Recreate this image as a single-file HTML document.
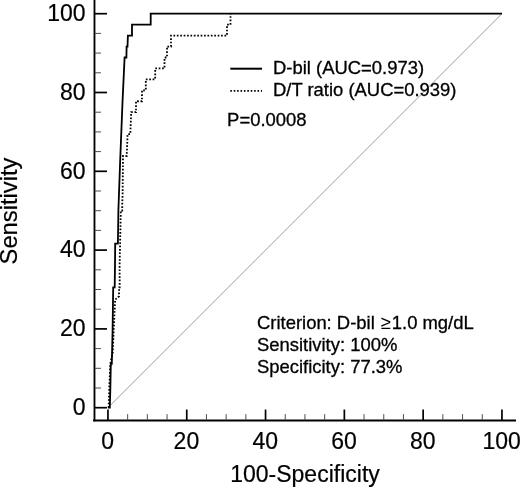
<!DOCTYPE html>
<html>
<head>
<meta charset="utf-8">
<title>ROC curve</title>
<style>
html,body{margin:0;padding:0;background:#fff;}
body{width:520px;height:487px;overflow:hidden;}
svg{display:block;}
text{font-family:"Liberation Sans",Arial,sans-serif;fill:#000;}
.tick{font-size:23px;stroke:#000;stroke-width:0.2px;}
.axl{font-size:23px;stroke:#000;stroke-width:0.2px;}
.ann{font-size:18.44px;stroke:#000;stroke-width:0.3px;}
</style>
</head>
<body>
<svg width="520" height="487" viewBox="0 0 520 487">
<rect x="0" y="0" width="520" height="487" fill="#fff"/>
<!-- diagonal reference line -->
<line x1="107.95" y1="407.70" x2="501.95" y2="13.70" stroke="#7c7c7c" stroke-width="0.75"/>
<!-- axes -->
<line x1="94.48" y1="0" x2="94.48" y2="421.34999999999997" stroke="#000" stroke-width="1.85"/>
<line x1="93.08" y1="420.45" x2="516" y2="420.45" stroke="#000" stroke-width="1.85"/>
<g id="ticks">
<line x1="94.48" y1="407.70" x2="106.98" y2="407.70" stroke="#000" stroke-width="1.7"/>
<line x1="107.95" y1="420.45" x2="107.95" y2="409.55" stroke="#000" stroke-width="1.7"/>
<line x1="94.48" y1="388.00" x2="100.98" y2="388.00" stroke="#3a3a3a" stroke-width="0.9"/>
<line x1="127.65" y1="420.45" x2="127.65" y2="414.15" stroke="#3a3a3a" stroke-width="0.9"/>
<line x1="94.48" y1="368.30" x2="100.98" y2="368.30" stroke="#3a3a3a" stroke-width="0.9"/>
<line x1="147.35" y1="420.45" x2="147.35" y2="414.15" stroke="#3a3a3a" stroke-width="0.9"/>
<line x1="94.48" y1="348.60" x2="100.98" y2="348.60" stroke="#3a3a3a" stroke-width="0.9"/>
<line x1="167.05" y1="420.45" x2="167.05" y2="414.15" stroke="#3a3a3a" stroke-width="0.9"/>
<line x1="94.48" y1="328.90" x2="106.98" y2="328.90" stroke="#000" stroke-width="1.7"/>
<line x1="186.75" y1="420.45" x2="186.75" y2="409.55" stroke="#000" stroke-width="1.7"/>
<line x1="94.48" y1="309.20" x2="100.98" y2="309.20" stroke="#3a3a3a" stroke-width="0.9"/>
<line x1="206.45" y1="420.45" x2="206.45" y2="414.15" stroke="#3a3a3a" stroke-width="0.9"/>
<line x1="94.48" y1="289.50" x2="100.98" y2="289.50" stroke="#3a3a3a" stroke-width="0.9"/>
<line x1="226.15" y1="420.45" x2="226.15" y2="414.15" stroke="#3a3a3a" stroke-width="0.9"/>
<line x1="94.48" y1="269.80" x2="100.98" y2="269.80" stroke="#3a3a3a" stroke-width="0.9"/>
<line x1="245.85" y1="420.45" x2="245.85" y2="414.15" stroke="#3a3a3a" stroke-width="0.9"/>
<line x1="94.48" y1="250.10" x2="106.98" y2="250.10" stroke="#000" stroke-width="1.7"/>
<line x1="265.55" y1="420.45" x2="265.55" y2="409.55" stroke="#000" stroke-width="1.7"/>
<line x1="94.48" y1="230.40" x2="100.98" y2="230.40" stroke="#3a3a3a" stroke-width="0.9"/>
<line x1="285.25" y1="420.45" x2="285.25" y2="414.15" stroke="#3a3a3a" stroke-width="0.9"/>
<line x1="94.48" y1="210.70" x2="100.98" y2="210.70" stroke="#3a3a3a" stroke-width="0.9"/>
<line x1="304.95" y1="420.45" x2="304.95" y2="414.15" stroke="#3a3a3a" stroke-width="0.9"/>
<line x1="94.48" y1="191.00" x2="100.98" y2="191.00" stroke="#3a3a3a" stroke-width="0.9"/>
<line x1="324.65" y1="420.45" x2="324.65" y2="414.15" stroke="#3a3a3a" stroke-width="0.9"/>
<line x1="94.48" y1="171.30" x2="106.98" y2="171.30" stroke="#000" stroke-width="1.7"/>
<line x1="344.35" y1="420.45" x2="344.35" y2="409.55" stroke="#000" stroke-width="1.7"/>
<line x1="94.48" y1="151.60" x2="100.98" y2="151.60" stroke="#3a3a3a" stroke-width="0.9"/>
<line x1="364.05" y1="420.45" x2="364.05" y2="414.15" stroke="#3a3a3a" stroke-width="0.9"/>
<line x1="94.48" y1="131.90" x2="100.98" y2="131.90" stroke="#3a3a3a" stroke-width="0.9"/>
<line x1="383.75" y1="420.45" x2="383.75" y2="414.15" stroke="#3a3a3a" stroke-width="0.9"/>
<line x1="94.48" y1="112.20" x2="100.98" y2="112.20" stroke="#3a3a3a" stroke-width="0.9"/>
<line x1="403.45" y1="420.45" x2="403.45" y2="414.15" stroke="#3a3a3a" stroke-width="0.9"/>
<line x1="94.48" y1="92.50" x2="106.98" y2="92.50" stroke="#000" stroke-width="1.7"/>
<line x1="423.15" y1="420.45" x2="423.15" y2="409.55" stroke="#000" stroke-width="1.7"/>
<line x1="94.48" y1="72.80" x2="100.98" y2="72.80" stroke="#3a3a3a" stroke-width="0.9"/>
<line x1="442.85" y1="420.45" x2="442.85" y2="414.15" stroke="#3a3a3a" stroke-width="0.9"/>
<line x1="94.48" y1="53.10" x2="100.98" y2="53.10" stroke="#3a3a3a" stroke-width="0.9"/>
<line x1="462.55" y1="420.45" x2="462.55" y2="414.15" stroke="#3a3a3a" stroke-width="0.9"/>
<line x1="94.48" y1="33.40" x2="100.98" y2="33.40" stroke="#3a3a3a" stroke-width="0.9"/>
<line x1="482.25" y1="420.45" x2="482.25" y2="414.15" stroke="#3a3a3a" stroke-width="0.9"/>
<line x1="94.48" y1="13.70" x2="106.98" y2="13.70" stroke="#000" stroke-width="1.7"/>
<line x1="501.95" y1="420.45" x2="501.95" y2="409.55" stroke="#000" stroke-width="1.7"/>
</g>
<!-- curves -->
<polyline fill="none" stroke="#000" stroke-width="1.8" stroke-dasharray="1.7 1.7" points="108.60,407.70 109.40,385.00 110.30,363.92 112.80,352.00 113.70,330.00 115.15,299.46 117.00,298.26 119.00,296.26 119.10,287.31 119.70,287.31 119.60,265.00 120.80,212.00 120.80,210.70 122.20,210.70 122.20,205.00 122.60,194.40 123.00,155.98 126.70,155.98 127.60,134.09 130.30,134.09 131.20,112.20 136.00,112.20 136.00,101.26 142.00,101.26 142.00,90.31 145.80,90.31 145.80,79.37 155.20,79.37 155.20,68.42 164.50,68.42 164.50,57.48 167.00,57.48 167.00,46.53 171.00,46.53 171.00,35.59 227.00,35.59 227.00,24.64 230.50,24.64 230.50,13.70"/>
<polyline fill="none" stroke="#000" stroke-width="1.8" stroke-linejoin="miter" points="108.00,407.70 109.80,407.70 110.30,390.00 110.80,363.92 111.80,363.92 112.60,330.00 113.20,287.31 114.70,287.31 115.00,265.00 115.20,243.53 117.90,243.53 118.40,210.00 120.20,160.00 122.60,100.00 124.60,57.48 126.40,57.48 126.60,46.53 127.50,46.53 127.90,35.59 132.00,35.59 132.00,24.64 150.70,24.64 150.70,13.70 501.95,13.70"/>
<!-- legend -->
<line x1="230.3" y1="68.7" x2="262" y2="68.7" stroke="#000" stroke-width="2"/>
<line x1="230.3" y1="90.8" x2="262" y2="90.8" stroke="#000" stroke-width="1.8" stroke-dasharray="1.6 1.8"/>
<text class="ann" transform="translate(273.0,74.3) scale(1,1.04)">D-bil (AUC=0.973)</text>
<text class="ann" transform="translate(273.0,96.3) scale(1,1.04)">D/T ratio (AUC=0.939)</text>
<text class="ann" transform="translate(227.1,126.4) scale(1,1.04)">P=0.0008</text>
<text class="ann" transform="translate(257.0,329.25) scale(1,1.04)">Criterion: D-bil <tspan dx="0.8" stroke="none">≥</tspan><tspan dx="1">1.0 mg/dL</tspan></text>
<text class="ann" transform="translate(257.0,351.25) scale(1,1.04)">Sensitivity: 100%</text>
<text class="ann" transform="translate(257.0,373.1) scale(1,1.04)">Specificity: 77.3%</text>
<!-- axis labels -->
<text class="axl" x="305.0" y="481.5" text-anchor="middle">100-Specificity</text>
<text class="axl" transform="translate(17,211.0) rotate(-90) scale(1.033,1)" text-anchor="middle">Sensitivity</text>
<g id="labels">
<text class="tick" x="85.6" y="21" text-anchor="end">100</text>
<text class="tick" x="85.6" y="100" text-anchor="end">80</text>
<text class="tick" x="85.6" y="179" text-anchor="end">60</text>
<text class="tick" x="85.6" y="257" text-anchor="end">40</text>
<text class="tick" x="85.6" y="336" text-anchor="end">20</text>
<text class="tick" x="85.6" y="415" text-anchor="end">0</text>
<text class="tick" x="107.7" y="449" text-anchor="middle">0</text>
<text class="tick" x="186.4" y="449" text-anchor="middle">20</text>
<text class="tick" x="265.2" y="449" text-anchor="middle">40</text>
<text class="tick" x="344.1" y="449" text-anchor="middle">60</text>
<text class="tick" x="422.8" y="449" text-anchor="middle">80</text>
<text class="tick" x="501.6" y="449" text-anchor="middle">100</text>
</g>
</svg>
</body>
</html>
